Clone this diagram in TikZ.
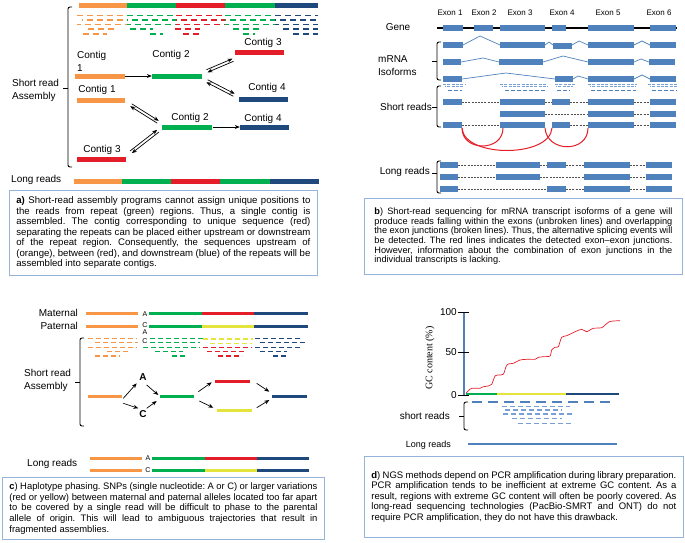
\documentclass[tikz,border=0pt]{standalone}
\usepackage{fontspec}
\setmainfont{Liberation Sans}
\newfontfamily\gcserif{Liberation Serif}
\usetikzlibrary{arrows.meta,decorations.pathreplacing,calc}
\definecolor{cOr}{RGB}{247,150,70}
\definecolor{cGr}{RGB}{0,176,80}
\definecolor{cRd}{RGB}{228,30,40}
\definecolor{cBl}{RGB}{31,73,125}
\definecolor{cYl}{RGB}{228,228,60}
\definecolor{cEx}{RGB}{79,129,189}
\definecolor{cExL}{RGB}{120,160,215}
\definecolor{cBox}{RGB}{150,180,218}
\definecolor{cJn}{RGB}{80,80,80}
\frenchspacing
\newcommand\dblarr[2]{%
  \draw[arr] ($(#1)!1.4pt!90:(#2)$) -- ($(#2)!1.4pt!-90:(#1)$);
  \draw[arr] ($(#2)!1.4pt!90:(#1)$) -- ($(#1)!1.4pt!-90:(#2)$);}
\newcommand\rowa[4]{%
  \draw[rd,cOr,dash phase=#4] (#2,#1)--(127,#1);
  \draw[rd,cGr,dash phase=#4] (127,#1)--(176,#1);
  \draw[rd,cRd,dash phase=#4] (176,#1)--(225,#1);
  \draw[rd,cGr,dash phase=#4] (225,#1)--(275,#1);
  \draw[rd,cBl,dash phase=#4] (275,#1)--(#3,#1);}
\newcommand\exb[3]{\fill[cEx] (#1,#3-3) rectangle (#2,#3+3);}
\newcommand\exl[3]{\fill[cEx] (#1,#3-2.7) rectangle (#2,#3+2.7);}
% bracket: x, ytop, ybottom, ytip
\newcommand\brk[4]{%
  \draw[line width=0.9pt, rounded corners=2pt] (#1+4,#2) -- (#1,#2) -- (#1,#3) -- (#1+4,#3);
  \draw[line width=0.9pt] (#1,#4) -- (#1-5,#4);}
\begin{document}
\begin{tikzpicture}[x=1pt,y=-1pt,
  lbl/.style={inner sep=0pt, font=\fontsize{10}{13}\selectfont},
  cbar/.style={rectangle, inner sep=0pt, minimum height=5pt, draw=none},
  tbar/.style={rectangle, inner sep=0pt, minimum height=3pt, draw=none},
  arr/.style={-{Stealth[length=5pt,width=4pt]}, line width=0.7pt},
  rd/.style={line width=1.3pt, dash pattern=on 6pt off 4pt},
  rc/.style={line width=1.2pt, dash pattern=on 5pt off 3pt},
  capbox/.style={draw=cBox, line width=0.8pt, inner xsep=7pt, inner ysep=4pt, align=justify, anchor=north west},
  jn/.style={draw=cEx, line width=0.7pt},
  dsh/.style={draw=cJn, line width=0.7pt, dash pattern=on 2pt off 1.2pt},
  ln5/.style={line width=5pt},
  ln3/.style={line width=3pt},
  jarc/.style={draw=cRd, line width=1pt},
]
\useasboundingbox (0,0) rectangle (685,542);

%%%%%%%%%%%%%%%% Panel a
\draw[ln5,cOr] (79,5)--(127,5);
\draw[ln5,cGr] (127,5)--(176,5);
\draw[ln5,cRd] (176,5)--(225,5);
\draw[ln5,cGr] (225,5)--(275,5);
\draw[ln5,cBl] (275,5)--(318,5);
\rowa{15.7}{77}{318}{0}
\rowa{20}{82}{318}{5}
\rowa{24.3}{77}{318}{2}
\draw[rd,cOr] (88,29)--(115,29);
\draw[rd,cGr] (130,29)--(153,29);
\draw[rd,cRd] (175,29)--(200,29);
\draw[rd,cGr] (233,29)--(260,29);
\draw[rd,cBl] (283,29)--(318,29);
\draw[rd,cOr] (83,34)--(107,34);
\draw[rd,cGr] (150,34)--(163,34);
\draw[rd,cRd] (183,34)--(200,34);
\draw[rd,cGr] (243,34)--(255,34);
\draw[rd,cBl] (293,34)--(318,34);

\brk{68}{7}{167}{88}
\node[lbl, anchor=west, align=left] (sra) at (12,90.5) {Short read\\Assembly};

\node[cbar, fill=cOr, minimum width=50pt] (a1) at (100,76) {};
\node[cbar, fill=cGr, minimum width=50pt] (a2) at (177,76) {};
\node[cbar, fill=cRd, minimum width=49pt] (a3) at (259.5,52) {};
\node[cbar, fill=cBl, minimum width=49pt] (a4) at (263.5,99) {};
\node[cbar, fill=cOr, minimum width=48pt] (b1) at (101,100) {};
\node[cbar, fill=cGr, minimum width=50pt] (b2) at (187,127) {};
\node[cbar, fill=cBl, minimum width=49pt] (b4) at (264.5,127) {};
\node[cbar, fill=cRd, minimum width=49pt] (b3) at (101.5,159) {};

\node[lbl, anchor=west, align=left] (ta1) at (77,61.5) {Contig\\1};
\node[lbl] (ta2) at (171,55) {Contig 2};
\node[lbl] (ta3) at (263,43) {Contig 3};
\node[lbl] (ta4) at (267,88) {Contig 4};
\node[lbl] (tb1) at (97,90) {Contig 1};
\node[lbl] (tb2) at (190,118) {Contig 2};
\node[lbl] (tb4) at (263,119) {Contig 4};
\node[lbl] (tb3) at (102,150) {Contig 3};

\draw[arr] (a1.east) -- (a2.west);
\draw[arr] ([xshift=1pt]b2.east) -- (b4.west);
\coordinate (p1) at (207,71); \coordinate (q1) at (233,60);
\coordinate (p2) at (207,81); \coordinate (q2) at (234,95);
\coordinate (p3) at (131,105); \coordinate (q3) at (158,122);
\coordinate (p4) at (131,152); \coordinate (q4) at (158,131);
\dblarr{p1}{q1}
\dblarr{p2}{q2}
\dblarr{p3}{q3}
\dblarr{p4}{q4}

\node[lbl, anchor=west] (lra) at (11,180) {Long reads};
\draw[ln5,cOr] (74,181)--(122,181);
\draw[ln5,cGr] (122,181)--(171,181);
\draw[ln5,cRd] (171,181)--(220,181);
\draw[ln5,cGr] (220,181)--(270,181);
\draw[ln5,cBl] (270,181)--(319,181);

\node[capbox, text width=294pt, minimum height=85pt, font=\fontsize{9.6}{10.5}\selectfont] (capa) at (9,190) {\noindent\textbf{a)} Short-read assembly programs cannot assign unique positions to\linebreak the reads from repeat (green) regions. Thus, a single contig is\linebreak assembled. The contig corresponding to unique sequence (red)\linebreak separating the repeats can be placed either upstream or downstream\linebreak of the repeat region. Consequently, the sequences upstream of\linebreak (orange), between (red), and downstream (blue) of the repeats will be\linebreak assembled into separate contigs.};

%%%%%%%%%%%%%%%% Panel b
\foreach \t/\x in {Exon 1/450, Exon 2/484, Exon 3/520, Exon 4/562, Exon 5/608, Exon 6/659}
  \node[inner sep=0pt, font=\fontsize{8}{9}\selectfont] at (\x,13) {\t};
\node[lbl] (gene) at (398,27) {Gene};
\draw[line width=2pt] (437,28) -- (677,28);
\exb{443}{463}{28}\exb{474}{493}{28}\exb{500}{545}{28}\exb{552}{566}{28}\exb{588}{634}{28}\exb{650}{676}{28}

\brk{437}{42}{80}{61}
\node[lbl, anchor=west, align=left] (mrna) at (378,66) {mRNA\\Isoforms};
% isoform 1
\draw[jn] (463,45)--(480,36)--(500,45);
\draw[jn] (545,45)--(549,42)--(553,45);
\draw[jn] (572,45)--(579,41)--(588,45);
\draw[jn] (634,45)--(642,41)--(650,45);
\exb{443}{463}{45}\exb{500}{545}{45}\exb{553}{572}{46}\exb{588}{634}{45}\exb{650}{676}{45}
% isoform 2
\draw[jn] (461,62)--(483,58)--(499,62);
\draw[jn] (543,62)--(563,56)--(588,62);
\draw[jn] (634,62)--(641,59)--(649,62);
\exb{443}{461}{62}\exb{499}{543}{62}\exb{588}{634}{62}\exb{649}{675}{62}
% isoform 3
\draw[jn] (462,79)--(506,73)--(555,79);
\draw[jn] (573,79)--(578,76)--(588,79);
\draw[jn] (634,79)--(642,75)--(650,79);
\exb{443}{462}{79}\exb{555}{573}{79}\exb{588}{634}{79}\exb{650}{676}{79}

% short read dashes
\foreach \a/\b in {443/466, 500/546, 555/575, 588/637, 648/678}
  \draw[cExL, line width=0.9pt, dash pattern=on 3pt off 1.3pt] (\a,84.5)--(\b,84.5);
\foreach \a/\b in {445/464, 502/548, 556/573, 590/636, 650/678}
  \draw[cExL, line width=0.9pt, dash pattern=on 3pt off 1.3pt, dash phase=2pt] (\a,86.7)--(\b,86.7);
\foreach \a/\b in {448/462, 505/545, 557/570, 591/636, 652/677}
  \draw[cEx, line width=1pt, dash pattern=on 3.5pt off 2.5pt] (\a,90)--(\b,90);

\brk{437}{86}{127}{107}
\node[lbl, anchor=east] (srb) at (432,107) {Short reads};
% row 1
\draw[dsh] (462,102)--(500,102); \draw[dsh] (545,102)--(552,102); \draw[dsh] (570,102)--(588,102); \draw[dsh] (634,102)--(650,102);
\exb{443}{462}{102}\exb{500}{545}{102}\exb{552}{570}{102}\exb{588}{634}{102}\exb{650}{676}{102}
% row 2
\draw[dsh] (545,114)--(588,114); \draw[dsh] (634,114)--(650,114);
\exb{500}{545}{114}\exb{588}{634}{114}\exb{650}{676}{114}
% row 3
\draw[dsh] (462,125)--(500,125); \draw[dsh] (570,125)--(588,125); \draw[dsh] (634,125)--(650,125);
\exb{443}{462}{125}\exb{500}{545}{125}\exb{552}{570}{125}\exb{588}{634}{125}\exb{650}{676}{125}
% red junction arcs
\draw[jarc] (462,128) .. controls (462,152) and (503,152) .. (503,128);
\draw[jarc] (462,128) .. controls (464,158) and (550,158) .. (552,128);
\draw[jarc] (545,128) .. controls (547,153) and (588,153) .. (588,128);

% long reads
\brk{437}{161}{193}{173}
\node[lbl, anchor=east] (lrb) at (430,172) {Long reads};
\draw[dsh] (458,165)--(496,165); \draw[dsh] (540,165)--(547,165); \draw[dsh] (566,165)--(584,165); \draw[dsh] (630,165)--(646,165);
\exl{440}{458}{165}\exl{496}{540}{165}\exl{547}{566}{165}\exl{584}{630}{165}\exl{646}{672}{165}
\draw[dsh] (458,177)--(496,177); \draw[dsh] (540,177)--(584,177); \draw[dsh] (630,177)--(646,177);
\exl{440}{458}{177}\exl{496}{540}{177}\exl{584}{630}{177}\exl{646}{672}{177}
\draw[dsh] (458,189)--(547,189); \draw[dsh] (566,189)--(584,189); \draw[dsh] (630,189)--(646,189);
\exl{440}{458}{189}\exl{547}{566}{189}\exl{584}{630}{189}\exl{646}{672}{189}

\node[capbox, text width=298pt, inner xsep=10pt, minimum height=76pt, font=\fontsize{9.2}{9.6}\selectfont] (capb) at (364,198) {\noindent\textbf{b}) Short-read sequencing for mRNA transcript isoforms of a gene will\linebreak produce reads falling within the exons (unbroken lines) and overlapping\linebreak the exon junctions (broken lines). Thus, the alternative splicing events will\linebreak be detected. The red lines indicates the detected exon–exon junctions.\linebreak However, information about the combination of exon junctions in the\linebreak individual transcripts is lacking.};

%%%%%%%%%%%%%%%% Panel c
\node[lbl, anchor=east] (mat) at (78,313) {Maternal};
\node[lbl, anchor=east] (pat) at (78,326) {Paternal};
\draw[ln3,cOr] (86,313)--(138,313); \draw[ln3,cGr] (149,313)--(202,313); \draw[ln3,cRd] (202,313)--(254,313); \draw[ln3,cBl] (254,313)--(308,313);
\draw[ln3,cOr] (86,326)--(138,326); \draw[ln3,cGr] (149,326)--(202,326); \draw[ln3,cYl] (202,326)--(254,326); \draw[ln3,cBl] (254,326)--(308,326);
\node[inner sep=0pt, font=\fontsize{7}{8}\selectfont] (mA) at (145,314) {A};
\node[inner sep=0pt, font=\fontsize{7}{8}\selectfont] (pC) at (145,325) {C};
\node[inner sep=0pt, font=\fontsize{7}{8}\selectfont] (rA) at (145,332) {A};
\node[inner sep=0pt, font=\fontsize{7}{8}\selectfont] (rC) at (145,341) {C};
\foreach \c/\a/\b/\y in {cOr/88/137/338.3, cGr/150/203/338.3, cYl/203/253/339, cBl/255/302/338.3,
  cOr/95/138/342.7, cGr/150/200/342.7, cYl/210/252/343.5, cBl/260/307/342.7,
  cOr/88/137/347.3, cGr/143/200/347.3, cRd/203/252/347.3, cBl/255/302/347.3,
  cOr/107/128/351.7, cGr/155/183/351.7, cRd/207/245/351.7, cBl/260/287/351.7,
  cOr/95/120/356, cGr/172/187/356, cRd/218/242/356, cBl/273/287/356}
  \draw[rc,\c] (\a,\y)--(\b,\y);

\brk{80}{338}{426}{382}
\node[lbl, anchor=west, align=left] (src) at (24,380.5) {Short read\\Assembly};
\node[tbar, fill=cOr, minimum width=34pt] (g1) at (105,396) {};
\node[tbar, fill=cGr, minimum width=34pt] (g2) at (177,396) {};
\node[tbar, fill=cRd, minimum width=35pt] (g3) at (232.5,381) {};
\node[tbar, fill=cYl, minimum width=35pt] (g4) at (234.5,410) {};
\node[tbar, fill=cBl, minimum width=35pt] (g5) at (289.5,396) {};
\node[inner sep=0pt, font=\bfseries\fontsize{10}{12}\selectfont] (gA) at (143,377) {A};
\node[inner sep=0pt, font=\bfseries\fontsize{10}{12}\selectfont] (gC) at (143,414) {C};
\coordinate (e1s) at (123.3,398.3); \coordinate (e1e) at (136.7,383.3);
\coordinate (e2s) at (146.7,385); \coordinate (e2e) at (158.3,395);
\coordinate (e3s) at (123.3,403.3); \coordinate (e3e) at (138.3,408.3);
\coordinate (e4s) at (146.7,408.3); \coordinate (e4e) at (156.7,401);
\coordinate (e5s) at (198.3,391.7); \coordinate (e5e) at (211.7,382.3);
\coordinate (e6s) at (199.3,401); \coordinate (e6e) at (213.3,407.7);
\coordinate (e7s) at (256.7,383.3); \coordinate (e7e) at (269.3,391.7);
\coordinate (e8s) at (256.7,407.7); \coordinate (e8e) at (269.3,400);
\foreach \i in {1,...,8} \draw[arr] (e\i s) -- (e\i e);

\node[lbl, anchor=west] (lrc) at (27,464) {Long reads};
\draw[ln3,cOr] (90,458)--(142,458); \draw[ln3,cGr] (152,458)--(205,458); \draw[ln3,cRd] (205,458)--(257,458); \draw[ln3,cBl] (257,458)--(309,458);
\draw[ln3,cOr] (90,470)--(142,470); \draw[ln3,cGr] (152,470)--(205,470); \draw[ln3,cYl] (205,470)--(257,470); \draw[ln3,cBl] (257,470)--(309,470);
\node[inner sep=0pt, font=\fontsize{7}{8}\selectfont] (lA) at (148,458) {A};
\node[inner sep=0pt, font=\fontsize{7}{8}\selectfont] (lC) at (148,470) {C};

\node[capbox, text width=308pt, minimum height=62pt, font=\fontsize{9.4}{10.7}\selectfont] (capc) at (2,477) {\noindent\textbf{c}) Haplotype phasing. SNPs (single nucleotide: A or C) or larger variations\linebreak (red or yellow) between maternal and paternal alleles located too far apart\linebreak to be covered by a single read will be difficult to phase to the parental\linebreak allele of origin. This will lead to ambiguous trajectories that result in\linebreak fragmented assemblies.};

%%%%%%%%%%%%%%%% Panel d
\draw[cEx, line width=2.5pt] (464,312) -- (464,395);
\foreach \y/\t in {312/100, 352/50, 395/0} {
  \draw[line width=1pt] (458,\y) -- (469,\y);
  \node[lbl, anchor=east] at (457,\y) {\t};
}
\node[inner sep=0pt, rotate=90, font=\gcserif\fontsize{10}{12}\selectfont] (gcl) at (430,358) {GC content (\%)};
\draw[line width=2.5pt, cGr] (466,394) -- (497,394);
\draw[line width=2.5pt, cYl] (497,394) -- (566,394);
\draw[line width=2.5pt, cBl] (566,394) -- (619,394);
\draw[cRd, line width=0.7pt] plot[smooth, tension=0.4] coordinates {(466,393.3) (468.3,390.7) (471.7,388.3) (480,388.3) (483.3,386.7) (488.3,386) (491.7,384.3) (495,376) (498.3,375) (503.3,374.3) (506,366.7) (508.3,364) (513.3,363.3) (520,360) (526.7,359.3) (535,359.3) (538.3,357.3) (543.3,356.7) (550,356) (551.7,350) (555,347.3) (558.3,346.7) (561.7,337.3) (566.7,335.7) (571.7,333.3) (576.7,331) (581.7,329.3) (586.7,331.7) (590,330) (593.3,328.3) (601.7,327.7) (605,325) (609.3,321.7) (613.3,321) (620,320.7)};
\brk{464}{402}{430}{416}
\node[lbl, anchor=east] (srd) at (450,416) {short reads};
\draw[cEx, line width=2pt, dash pattern=on 10pt off 6pt] (472,402) -- (612,402);
\foreach \a/\b/\y in {501.7/570/406.7, 505/561.7/410, 503/571.7/414, 511.7/561.7/418.3, 518/573/423.3}
  \draw[cExL, line width=1.1pt, dash pattern=on 5pt off 3pt] (\a,\y) -- (\b,\y);
\node[lbl, anchor=east, font=\fontsize{9}{11}\selectfont] (lrd) at (451,445) {Long reads};
\draw[cEx, line width=2pt] (468,444) -- (617,444);

\node[capbox, text width=305pt, minimum height=81pt, font=\fontsize{9.5}{10.4}\selectfont] (capd) at (364,456) {\noindent\textbf{d}) NGS methods depend on PCR amplification during library preparation.\linebreak PCR amplification tends to be inefficient at extreme GC content. As a\linebreak result, regions with extreme GC content will often be poorly covered. As\linebreak long-read sequencing technologies (PacBio-SMRT and ONT) do not\linebreak require PCR amplification, they do not have this drawback.};
\end{tikzpicture}
\end{document}
